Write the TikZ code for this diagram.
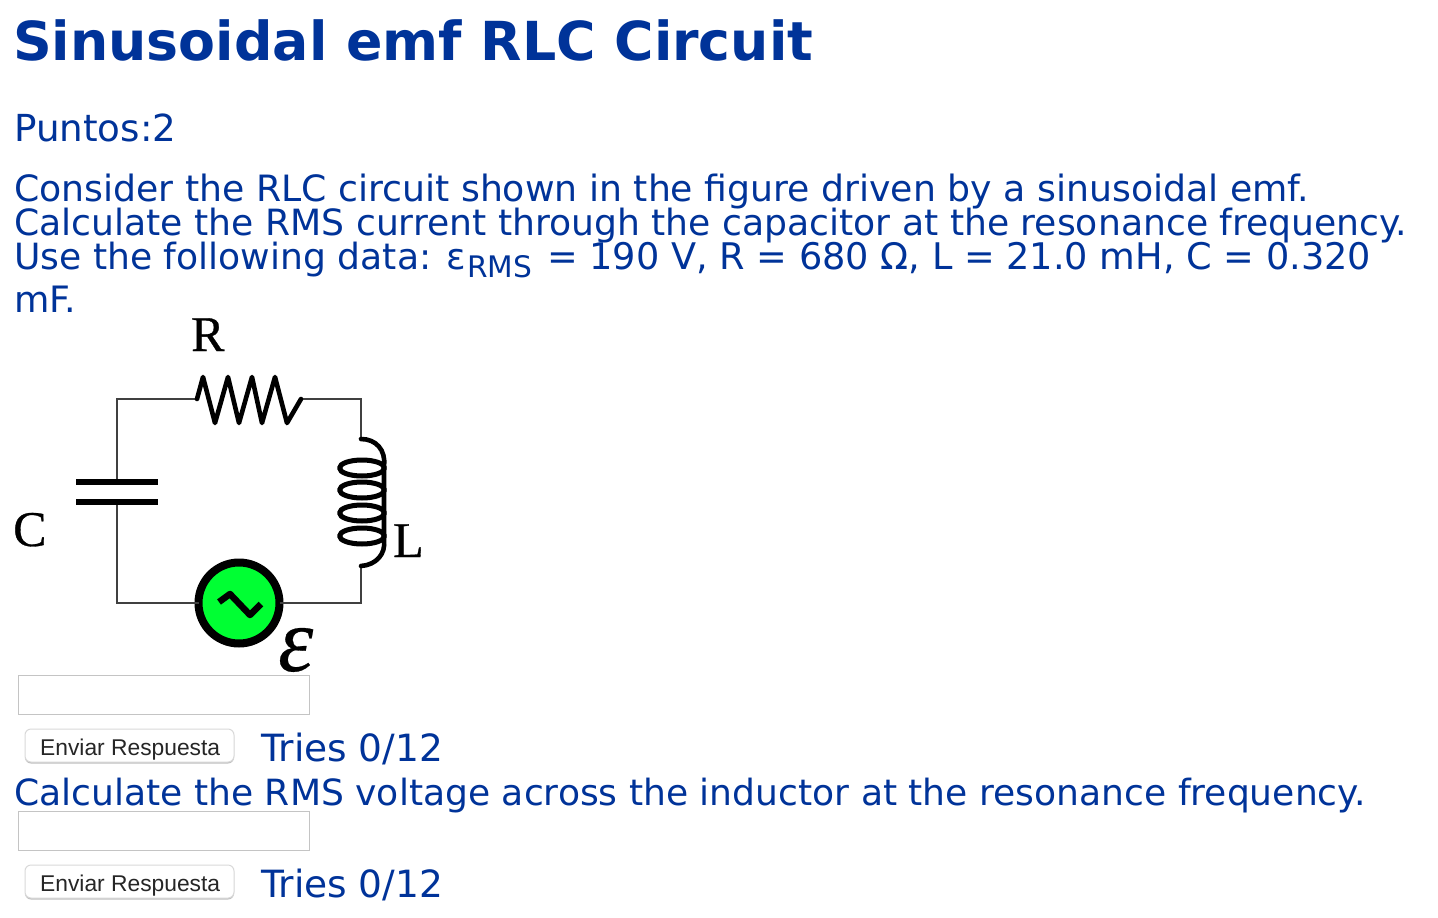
\documentclass[tikz,border=0pt]{standalone}
\usepackage{graphicx}
\usepackage{fontspec}
\setmainfont{DejaVu Sans}
\newfontfamily\btnfont{Liberation Sans}
\newfontfamily\serfont[FakeBold=0.6]{Liberation Serif}
\newfontfamily\epsfont[FakeBold=0.3]{Liberation Serif Italic}
\definecolor{qblue}{HTML}{003399}
\definecolor{srcgreen}{HTML}{00FF33}
\definecolor{boxgray}{HTML}{C4C4C4}
\newcommand{\fitw}[2]{\resizebox{#1pt}{!}{#2}}
\tikzset{
  txt/.style={anchor=base west,inner sep=0pt,text=qblue,font=\fontsize{36}{36}\selectfont},
  cirlabel/.style={anchor=base west,inner sep=0pt,text=black,font=\fontsize{50}{50}\selectfont\serfont},
  btntext/.style={anchor=base west,inner sep=0pt,text=black!85,font=\fontsize{22}{22}\selectfont\btnfont},
  wire/.style={draw=black!75,line width=1.6pt},
  heavy/.style={draw=black,line width=4.6pt,line join=round,line cap=round},
  plate/.style={draw=black,line width=6pt},
  ansbox/.style={draw=boxgray,line width=1pt,fill=white,anchor=north west,minimum width=291pt,minimum height=39pt,inner sep=0pt,outer sep=0pt},
  btn/.style={draw=black!15,line width=1pt,fill=white,rounded corners=6pt,anchor=north west,minimum width=209pt,minimum height=33pt,inner sep=0pt,outer sep=0pt},
  btnshadow/.style={fill=black!25,rounded corners=6pt,anchor=north west,minimum width=209pt,minimum height=33pt,inner sep=0pt,outer sep=0pt},
}
\begin{document}
\begin{tikzpicture}[x=1pt,y=-1pt]
\useasboundingbox (0,0) rectangle (1438,918);
\fill[white] (0,0) rectangle (1438,918);
% texts
\node[txt] (title) at (13,60.5) {\fitw{800}{\bfseries Sinusoidal emf RLC Circuit}};
\node[txt] (pts) at (14,141) {\fitw{162}{Puntos:2}};
\node[txt] (l1) at (14,201) {\fitw{1295}{Consider the RLC circuit shown in the figure driven by a sinusoidal emf.}};
\node[txt] (l2) at (14,235) {\fitw{1393}{Calculate the RMS current through the capacitor at the resonance frequency.}};
\node[txt] (l3) at (14,269) {\fitw{452}{Use the following data: ε}\hspace{1pt}\raisebox{-8pt}{\fitw{65}{RMS}}\hspace{15pt}\fitw{824}{= 190 V, R = 680 Ω, L = 21.0 mH, C = 0.320}};
\node[txt] (l4) at (14,312) {\fitw{62}{mF.}};
% circuit
\node[cirlabel] (lR) at (191,351) {R};
\node[cirlabel] (lC) at (13,546) {C};
\node[cirlabel] (lL) at (393,557) {L};
\node[anchor=base west,inner sep=0pt] (lE) at (278,671) {\resizebox{35pt}{43pt}{\epsfont ε}};
\coordinate (corTL) at (117,399);
\coordinate (corTR) at (361,399);
\coordinate (corBL) at (117,603);
\coordinate (corBR) at (361,603);
\coordinate (resL) at (197,399);
\coordinate (resR) at (301,399);
\coordinate (capT) at (117,482);
\coordinate (capB) at (117,502);
\coordinate (indT) at (361,439);
\coordinate (indB) at (361,566);
\node[circle,draw=black,line width=8pt,fill=srcgreen,minimum size=81pt,inner sep=0pt,outer sep=0pt] (src) at (239,603) {};
\draw[wire] (resL) -- (corTL) -- (capT);
\draw[wire] (capB) -- (corBL) -- (src.west);
\draw[wire] (src.east) -- (corBR) -- (indB);
\draw[wire] (indT) -- (corTR) -- (resR);
\draw[heavy] (resL) -- (203,377) -- (215,423) -- (228,377) -- (239,423) -- (252,377) -- (262,423) -- (275,377) -- (287,423) -- (resR);
\draw[plate] (76,482) -- (158,482);
\draw[plate] (76,502) -- (158,502);
% inductor
\draw[heavy] (indT) .. controls (376,439) and (386,450) .. (384,466) -- (384,540) .. controls (386,554) and (376,565) .. (indB);
\foreach \yy in {468,490,513,536}{
  \draw[heavy,line width=5pt] (362,\yy) ellipse [x radius=22.5,y radius=8];
}
% tilde
\draw[black,line width=6.5pt,line join=round] (219,602) -- (230,594) -- (250,615) -- (261,604);
% answers
\node[ansbox] (a1) at (18,675) {};
\node[btnshadow] (b1s) at (25,730.5) {};
\node[btn] (b1) at (25,729) {};
\node[btntext] (b1t) at (40,755) {\fitw{180}{Enviar Respuesta}};
\node[txt] (t1) at (261,761) {\fitw{182}{Tries 0/12}};
\node[txt] (l5) at (14,805) {\fitw{1351}{Calculate the RMS voltage across the inductor at the resonance frequency.}};
\node[ansbox] (a2) at (18,811) {};
\node[btnshadow] (b2s) at (25,866.5) {};
\node[btn] (b2) at (25,865) {};
\node[btntext] (b2t) at (40,891) {\fitw{180}{Enviar Respuesta}};
\node[txt] (t2) at (261,897) {\fitw{182}{Tries 0/12}};
\end{tikzpicture}
\end{document}
